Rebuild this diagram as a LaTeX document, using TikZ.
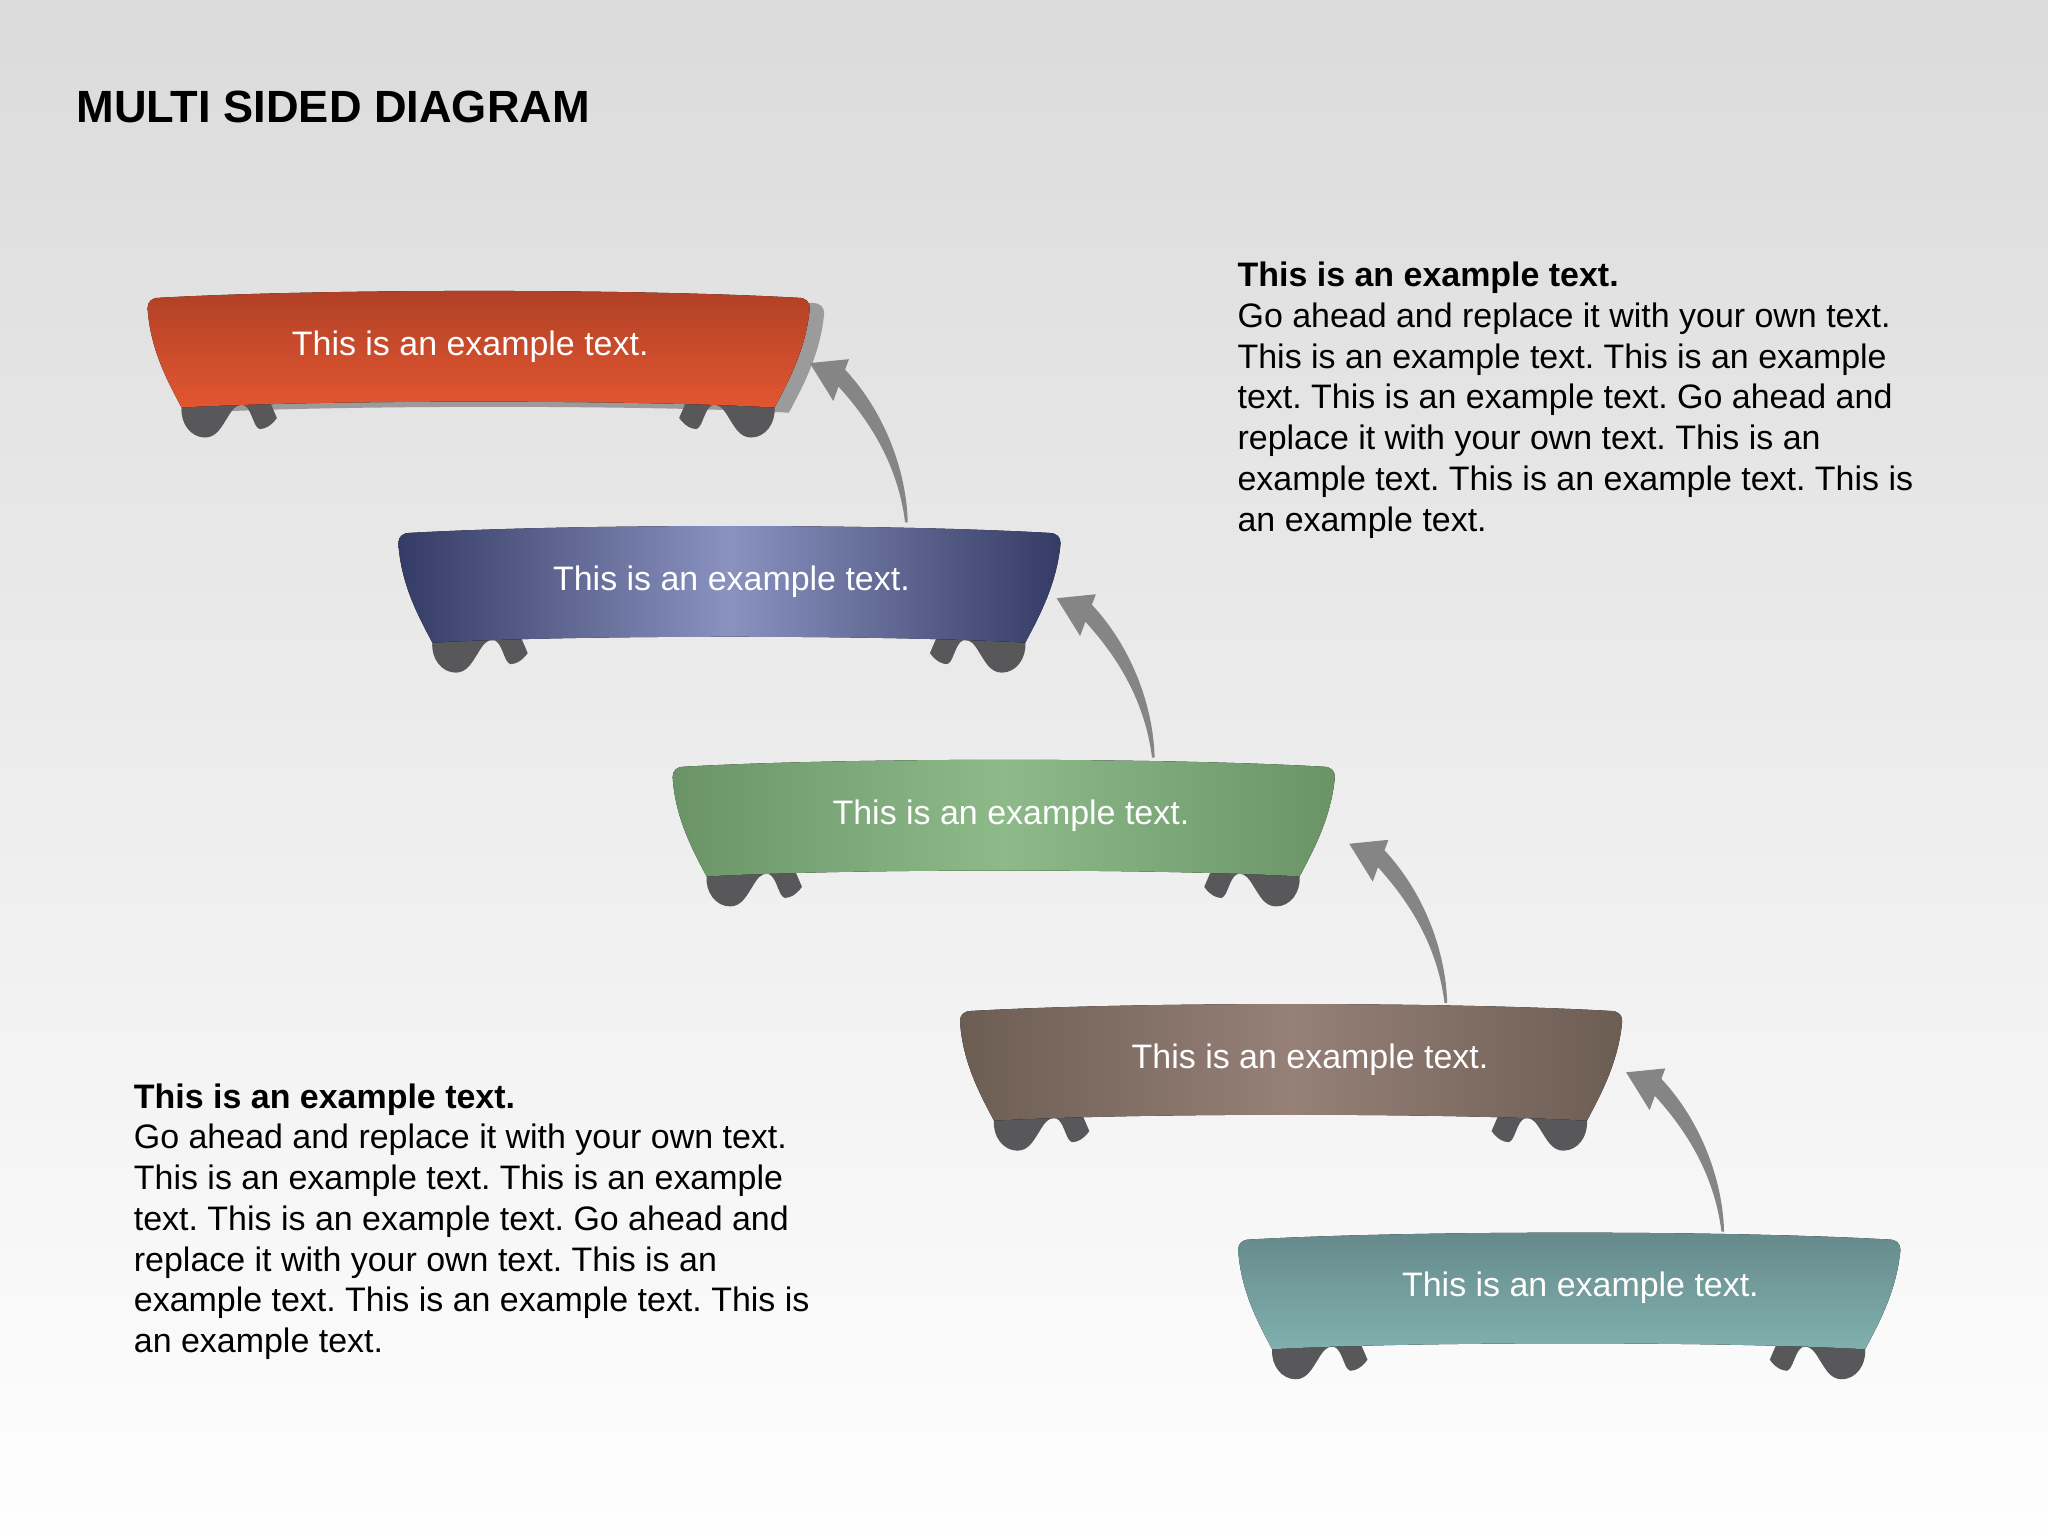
\documentclass[tikz,border=0pt]{standalone}
\usepackage{fontspec}
\setmainfont{Liberation Sans}
\usepackage{tikz}
\usetikzlibrary{calc}
\frenchspacing

\definecolor{bgtop}{RGB}{219,219,220}
\definecolor{bgmid}{RGB}{240,240,241}
\definecolor{bgbot}{RGB}{254,254,254}
\definecolor{footgrey}{RGB}{88,88,90}
\definecolor{arrowgrey}{RGB}{133,133,133}
\definecolor{ribshade}{RGB}{155,155,155}
\definecolor{redtop}{RGB}{176,64,38}
\definecolor{redbot}{RGB}{226,86,48}
\definecolor{blueedge}{RGB}{52,59,100}
\definecolor{bluemid}{RGB}{138,146,192}
\definecolor{greenedge}{RGB}{106,148,102}
\definecolor{greenmid}{RGB}{142,186,138}
\definecolor{brownedge}{RGB}{108,93,83}
\definecolor{brownmid}{RGB}{150,128,120}
\definecolor{tealtop}{RGB}{102,137,138}
\definecolor{tealbot}{RGB}{128,176,174}

\tikzset{
	redband/.style={top color=redtop,bottom color=redbot},
	blueband/.style={left color=blueedge,right color=blueedge,middle color=bluemid},
	greenband/.style={left color=greenedge,right color=greenedge,middle color=greenmid},
	brownband/.style={left color=brownedge,right color=brownedge,middle color=brownmid},
	tealband/.style={top color=tealtop,bottom color=tealbot},
	ribtext/.style={text=white,font=\fontsize{9.66}{11.6}\selectfont,inner sep=0pt,anchor=base},
	bodytext/.style={font=\fontsize{9.66}{11.6}\selectfont,inner sep=0pt,anchor=north west,align=left},
	foot/.pic={
		\fill[footgrey] (-1,-10) -- (0,0) .. controls (-1,12) and (7,23) .. (18,23)
			.. controls (27,23) and (31,14) .. (35,8)
			.. controls (39,1) and (42,-2) .. (46,-2)
			.. controls (52,-2) and (54,9) .. (57,14)
			.. controls (59,17) and (61,17) .. (63,16)
			.. controls (67,15) and (71,11) .. (73,8)
			-- (67,-6) -- cycle;
	},
	bandbody/.pic={
		\fill[#1] (-254,-27) .. controls (-254,-32) and (-251,-35) .. (-245,-35)
			.. controls (-120,-42) and (120,-42) .. (244,-35)
			.. controls (250,-35) and (253,-32) .. (253,-27)
			.. controls (250,5) and (236,30) .. (226,49)
			.. controls (120,43) and (-120,43) .. (-228,49)
			.. controls (-238,30) and (-252,5) .. (-254,-27) -- cycle;
	},
	band/.pic={
		\pic at (-228,49) {foot};
		\pic[xscale=-1] at (226,49) {foot};
		\pic {bandbody=#1};
	},
	uparrow/.pic={
		\fill[arrowgrey] (0,0) .. controls (-1,-40) and (-18,-85) .. (-48,-117)
			-- (-45,-125) -- (-75,-122) -- (-57,-93) -- (-53,-104)
			.. controls (-33,-82) and (-8,-48) .. (-2,0) -- cycle;
	}
}

\begin{document}
\begin{tikzpicture}[x=0.013061cm,y=-0.013061cm]
	
	\fill[top color=bgtop,middle color=bgmid,bottom color=bgbot] (0,0) rectangle (1568,1176);
	
	\node[font=\fontsize{12.85}{15}\selectfont\bfseries,inner sep=0pt,anchor=base west] (title) at (58,94) {MULTI SIDED DIAGRAM};
	
	\coordinate (band1) at (367,263);
	\coordinate (band2) at (559,443);
	\coordinate (band3) at (769,622);
	\coordinate (band4) at (989,809);
	\coordinate (band5) at (1202,984);
	
	\pic at ([shift={(11,4)}]band1) {bandbody=ribshade};
	\pic at (band1) {band=redband};
	\pic at (band2) {band=blueband};
	\pic at (band3) {band=greenband};
	\pic at (band4) {band=brownband};
	\pic at (band5) {band=tealband};
	
	\node[ribtext] (rib1) at (360,272) {This is an example text.};
	\node[ribtext] (rib2) at (560,452) {This is an example text.};
	\node[ribtext] (rib3) at (774,631) {This is an example text.};
	\node[ribtext] (rib4) at (1003,818) {This is an example text.};
	\node[ribtext] (rib5) at (1210,993) {This is an example text.};
	
	\coordinate (up1) at (695,400);
	\coordinate (up2) at (884,580);
	\coordinate (up3) at (1108,768);
	\coordinate (up4) at (1320,943);
	\pic at (up1) {uparrow};
	\pic at (up2) {uparrow};
	\pic at (up3) {uparrow};
	\pic at (up4) {uparrow};
	
	\node[bodytext] (textR) at (947,200) {\textbf{This is an example text.}\\
		Go ahead and replace it with your own text.\\
		This is an example text. This is an example\\
		text. This is an example text. Go ahead and\\
		replace it with your own text. This is an\\
		example text. This is an example text. This is\\
		an example text.};
	\node[bodytext] (textL) at (102,829) {\textbf{This is an example text.}\\
		Go ahead and replace it with your own text.\\
		This is an example text. This is an example\\
		text. This is an example text. Go ahead and\\
		replace it with your own text. This is an\\
		example text. This is an example text. This is\\
		an example text.};
	
\end{tikzpicture}
\end{document}
